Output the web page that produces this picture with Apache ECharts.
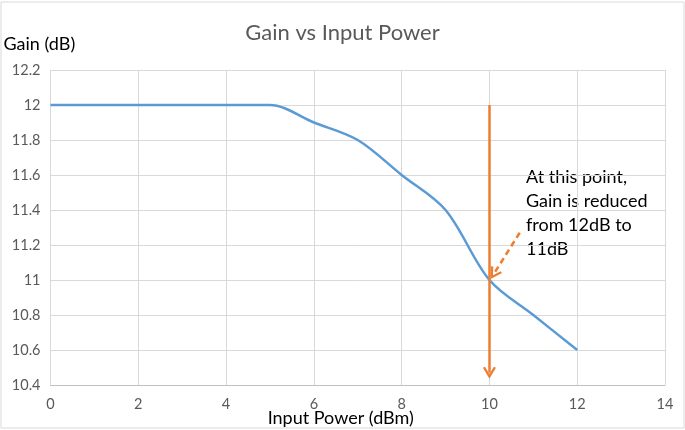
<!DOCTYPE html>
<html><head><meta charset="utf-8">
<script src="https://cdn.jsdelivr.net/npm/echarts@6/dist/echarts.min.js"></script>
<style>html,body{margin:0;padding:0;background:#fff}#c{width:685px;height:430px}</style>
</head><body><div id="c"></div>
<script>
const inputPower = [0, 1, 2, 3, 4, 5, 6, 7, 8, 9, 10, 11, 12];
const gain = [12, 12, 12, 12, 12, 12, 11.9, 11.8, 11.6, 11.4, 11.0, 10.8, 10.6];
const xTicks = [0, 2, 4, 6, 8, 10, 12, 14];
const yTicks = [10.4, 10.6, 10.8, 11, 11.2, 11.4, 11.6, 11.8, 12, 12.2];
const mainArrow = [[10, 12], [10, 10.47]];
const pointerArrow = [[10.69, 11.27], [10.1, 11.035]];
const noteLines = ['At this point,', 'Gain is reduced', 'from 12dB to', '11dB'];

const chevron = 'path://M5,0 L10,9 L8.4,9.8 L5,3.6 L1.6,9.8 L0,9 Z';
const font = 'Lato, "Open Sans", sans-serif';

const chart = echarts.init(document.getElementById('c'), null, {renderer: 'canvas'});
chart.setOption({
  animation: false,
  backgroundColor: '#fff',
  title: {
    text: 'Gain vs Input Power', left: 'center', top: 17,
    textStyle: {fontFamily: font, fontSize: 22, fontWeight: 'normal', color: '#595959'}
  },
  grid: {left: 50.5, right: 20, top: 70, bottom: 45, outerBoundsMode: 'none', containLabel: false},
  xAxis: {
    type: 'value', min: xTicks[0], max: xTicks[xTicks.length - 1], interval: 2,
    name: 'Input Power (dBm)', nameLocation: 'middle', nameGap: 33, nameMoveOverlap: false,
    nameTextStyle: {fontFamily: font, fontSize: 18, color: '#000', verticalAlign: 'middle', lineHeight: 18, padding: [0, 34, 0, 0]},
    axisLine: {lineStyle: {color: '#BFBFBF'}},
    axisTick: {show: false},
    axisLabel: {fontFamily: font, fontSize: 14.5, color: '#595959', margin: 12},
    splitLine: {lineStyle: {color: '#D9D9D9'}}
  },
  yAxis: {
    type: 'value', min: yTicks[0], max: yTicks[yTicks.length - 1], interval: 0.2,
    name: 'Gain (dB)', nameLocation: 'end', nameGap: 0, nameMoveOverlap: false,
    nameTextStyle: {fontFamily: font, fontSize: 18, color: '#000', align: 'left', padding: [0, 0, 17, -47]},
    axisLine: {show: false},
    axisTick: {show: false},
    axisLabel: {fontFamily: font, fontSize: 14.5, color: '#595959', margin: 10,
      formatter: v => String(Math.round(v * 10) / 10)},
    splitLine: {lineStyle: {color: '#D9D9D9'}}
  },
  graphic: [
    {type: 'rect', shape: {x: 1, y: 2, width: 683, height: 426}, style: {fill: 'none', stroke: '#D9D9D9', lineWidth: 1}, z: -1},
    {type: 'text', left: 526, top: 165, style: {text: noteLines.join('\n'), font: '18px ' + font, fill: '#000', lineHeight: 24}}
  ],
  series: [{
    type: 'line',
    data: inputPower.map((x, i) => [x, gain[i]]),
    smooth: 0.33,
    showSymbol: false,
    lineStyle: {color: '#5B9BD5', width: 2.5},
    itemStyle: {color: '#5B9BD5'},
    markLine: {
      silent: true,
      label: {show: false},
      emphasis: {disabled: true},
      data: [
        [{coord: mainArrow[0], symbol: 'none', lineStyle: {color: '#ED7D31', width: 2.5, type: 'solid'}},
         {coord: mainArrow[1], symbol: chevron, symbolSize: [13, 12]}],
        [{coord: pointerArrow[0], symbol: 'none', lineStyle: {color: '#ED7D31', width: 2.5, type: [6, 4]}},
         {coord: pointerArrow[1], symbol: chevron, symbolSize: [13, 12]}]
      ]
    }
  }]
});
</script></body></html>
